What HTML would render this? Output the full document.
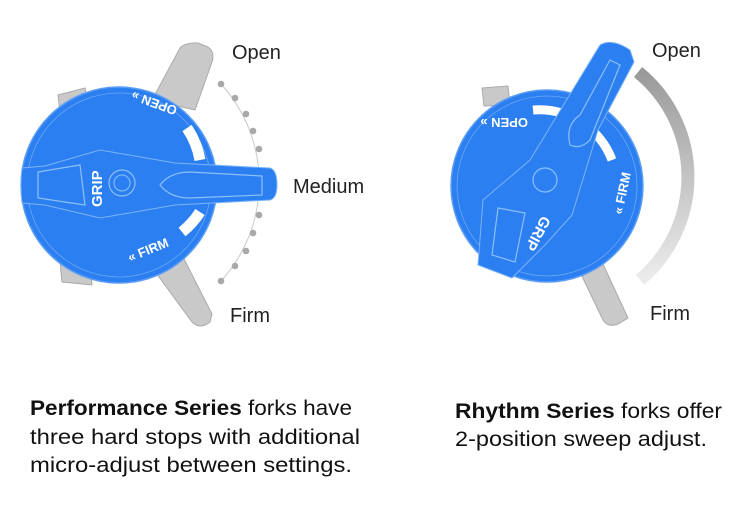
<!DOCTYPE html>
<html><head><meta charset="utf-8"><style>
html,body{margin:0;padding:0;background:#fff;}
svg{display:block;}
text{font-family:"Liberation Sans",sans-serif;}
</style></head><body>
<svg width="750" height="513" viewBox="0 0 750 513" xmlns="http://www.w3.org/2000/svg">
<defs>
<linearGradient id="g" x1="0" y1="0" x2="0" y2="1">
<stop offset="0" stop-color="#9a9a9a"/><stop offset="1" stop-color="#ececec"/>
</linearGradient>
</defs>
<!-- LEFT -->
<path d="M152,100 L180,48 Q186,42 198,43 L208,47 Q215,52 212,62 L195,110 Z" fill="#c9c9c9" stroke="#aaa"/>
<path d="M148,262 L192,322 Q200,330 210,322 L212,314 L182,255 Z" fill="#c9c9c9" stroke="#aaa"/>
<path d="M58,95 L85,88 L90,110 L60,112 Z" fill="#c9c9c9" stroke="#aaa"/>
<path d="M60,262 L90,260 L92,285 L62,282 Z" fill="#c9c9c9" stroke="#aaa"/>
<path d="M221,84 A146 146 0 0 1 221,281" fill="none" stroke="#c8c8c8" stroke-width="1"/>
<g fill="#a9a9a9">
<circle cx="221" cy="84" r="3.3"/><circle cx="235" cy="98" r="3.3"/><circle cx="246" cy="114" r="3.3"/><circle cx="253" cy="131" r="3.3"/><circle cx="259" cy="149" r="3.3"/>
<circle cx="259" cy="215" r="3.3"/><circle cx="253" cy="233" r="3.3"/><circle cx="246" cy="251" r="3.3"/><circle cx="235" cy="266" r="3.3"/><circle cx="221" cy="281" r="3.3"/>
</g>
<circle cx="119" cy="185" r="98" fill="#2b7ff0" stroke="#5b9df5" stroke-width="1.5"/>
<circle cx="119" cy="185" r="92" fill="none" stroke="#6aa8f7" stroke-width="0.8"/>
<path d="M187,128 A82 82 0 0 1 200,160" fill="none" stroke="#fff" stroke-width="11"/>
<path d="M197,174 A82 82 0 0 1 197,196" fill="none" stroke="#fff" stroke-width="11"/>
<path d="M200,212 A82 82 0 0 1 182,232" fill="none" stroke="#fff" stroke-width="11"/>
<path d="M22,168 Q20,185 22,203 L45,205 L100,218 L175,205 L270,200 Q277,198 277,185 Q277,170 270,168 L175,163 L100,150 L45,166 Z" fill="#2b7ff0" stroke="#7cb4f8" stroke-width="1"/>
<path d="M38,172 L80,165 L85,205 L38,198 Z" fill="none" stroke="#8cc0fa" stroke-width="1.2"/>
<path d="M160,185 Q170,172 190,172 L262,176 L262,195 L190,198 Q170,198 160,185 Z" fill="none" stroke="#8cc0fa" stroke-width="1.2"/>
<circle cx="122" cy="183" r="13" fill="none" stroke="#8cc0fa" stroke-width="1.2"/>
<circle cx="122" cy="183" r="8" fill="none" stroke="#8cc0fa" stroke-width="1"/>
<text transform="translate(102,207) rotate(-90)" font-size="15" font-weight="bold" fill="#fff">GRIP</text>
<text transform="translate(178,107) rotate(200)" font-size="13" font-weight="bold" fill="#fff">OPEN »</text>
<text transform="translate(130,262) rotate(-22)" font-size="13" font-weight="bold" fill="#fff">« FIRM</text>
<text x="232" y="59" font-size="20" fill="#222">Open</text>
<text x="293" y="193" font-size="20" fill="#222">Medium</text>
<text x="230" y="322" font-size="20" fill="#222">Firm</text>
<!-- RIGHT -->
<path d="M578,268 L603,320 Q608,328 618,324 L628,318 L602,262 Z" fill="#c9c9c9" stroke="#aaa"/>
<path d="M482,88 L508,86 L510,105 L484,106 Z" fill="#c9c9c9" stroke="#aaa"/>
<path d="M638,72 A135 135 0 0 1 640,280" fill="none" stroke="url(#g)" stroke-width="13"/>
<circle cx="547" cy="186" r="96" fill="#2b7ff0" stroke="#5b9df5" stroke-width="1.5"/>
<circle cx="547" cy="186" r="90" fill="none" stroke="#6aa8f7" stroke-width="0.8"/>
<path d="M533,110 A78 78 0 0 1 612,160" fill="none" stroke="#fff" stroke-width="9"/>
<path d="M600,45 Q612,38 630,50 L634,62 L598,130 L572,215 L545,245 L512,278 L478,265 L483,200 L530,160 Z" fill="#2b7ff0" stroke="#7cb4f8" stroke-width="1"/>
<path d="M498,208 L525,213 L515,262 L492,255 Z" fill="none" stroke="#8cc0fa" stroke-width="1.2"/>
<path d="M570,145 Q565,125 580,115 L610,60 L620,65 L590,140 Q580,150 570,145 Z" fill="none" stroke="#8cc0fa" stroke-width="1.2"/>
<circle cx="545" cy="180" r="12" fill="none" stroke="#8cc0fa" stroke-width="1.2"/>
<text transform="translate(542,215) rotate(118)" font-size="15" font-weight="bold" fill="#fff">GRIP</text>
<text transform="translate(528,118) rotate(180)" font-size="13" font-weight="bold" fill="#fff">OPEN »</text>
<text transform="translate(622,215) rotate(-78)" font-size="13" font-weight="bold" fill="#fff">« FIRM</text>
<text x="652" y="57" font-size="20" fill="#222">Open</text>
<text x="650" y="320" font-size="20" fill="#222">Firm</text>
<g font-size="21" fill="#111">
<text x="30" y="415" textLength="322" lengthAdjust="spacingAndGlyphs"><tspan font-weight="bold">Performance Series</tspan> forks have</text>
<text x="30" y="444" textLength="330" lengthAdjust="spacingAndGlyphs">three hard stops with additional</text>
<text x="30" y="472" textLength="322" lengthAdjust="spacingAndGlyphs">micro-adjust between settings.</text>
<text x="455" y="418" textLength="267" lengthAdjust="spacingAndGlyphs"><tspan font-weight="bold">Rhythm Series</tspan> forks offer</text>
<text x="455" y="446" textLength="252" lengthAdjust="spacingAndGlyphs">2-position sweep adjust.</text>
</g>
</svg>
</body></html>
